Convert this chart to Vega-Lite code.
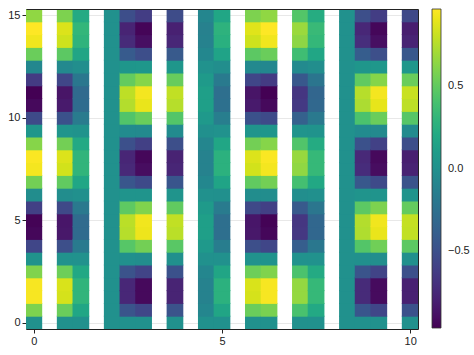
{
"$schema": "https://vega.github.io/schema/vega-lite/v6.json",
"width": 392, "height": 320,
"autosize": {"type": "none"},
"padding": {"left": 26, "top": 9, "right": 56, "bottom": 26},
"config": {
  "view": {"stroke": null},
  "font": "Liberation Sans",
  "axis": {"domainColor": "#222", "domainWidth": 1, "tickColor": "#222", "tickSize": 4, "labelColor": "#222", "labelFontSize": 11, "labelPadding": 2, "gridColor": "#e8e8e8", "title": null}
},
"data": {"values": [
{"x":0,"y":0,"v":0},{"x":0,"y":0.625,"v":0.59},{"x":0,"y":1.25,"v":0.95},{"x":0,"y":1.875,"v":0.95},{"x":0,"y":2.5,"v":0.6},{"x":0,"y":3.125,"v":0.02},{"x":0,"y":3.75,"v":-0.57},{"x":0,"y":4.375,"v":-0.94},{"x":0,"y":5,"v":-0.96},{"x":0,"y":5.625,"v":-0.61},{"x":0,"y":6.25,"v":-0.03},{"x":0,"y":6.875,"v":0.56},{"x":0,"y":7.5,"v":0.94},{"x":0,"y":8.125,"v":0.96},{"x":0,"y":8.75,"v":0.62},{"x":0,"y":9.375,"v":0.05},{"x":0,"y":10,"v":-0.54},{"x":0,"y":10.625,"v":-0.93},{"x":0,"y":11.25,"v":-0.97},{"x":0,"y":11.875,"v":-0.64},{"x":0,"y":12.5,"v":-0.07},{"x":0,"y":13.125,"v":0.53},{"x":0,"y":13.75,"v":0.93},{"x":0,"y":14.375,"v":0.97},{"x":0,"y":15,"v":0.65},
{"x":0.833,"y":0,"v":0},{"x":0.833,"y":0.625,"v":0.53},{"x":0.833,"y":1.25,"v":0.85},{"x":0.833,"y":1.875,"v":0.86},{"x":0.833,"y":2.5,"v":0.54},{"x":0.833,"y":3.125,"v":0.01},{"x":0.833,"y":3.75,"v":-0.51},{"x":0.833,"y":4.375,"v":-0.85},{"x":0.833,"y":5,"v":-0.86},{"x":0.833,"y":5.625,"v":-0.55},{"x":0.833,"y":6.25,"v":-0.03},{"x":0.833,"y":6.875,"v":0.5},{"x":0.833,"y":7.5,"v":0.84},{"x":0.833,"y":8.125,"v":0.87},{"x":0.833,"y":8.75,"v":0.56},{"x":0.833,"y":9.375,"v":0.04},{"x":0.833,"y":10,"v":-0.49},{"x":0.833,"y":10.625,"v":-0.84},{"x":0.833,"y":11.25,"v":-0.87},{"x":0.833,"y":11.875,"v":-0.57},{"x":0.833,"y":12.5,"v":-0.06},{"x":0.833,"y":13.125,"v":0.48},{"x":0.833,"y":13.75,"v":0.83},{"x":0.833,"y":14.375,"v":0.87},{"x":0.833,"y":15,"v":0.59},
{"x":1.25,"y":0,"v":0},{"x":1.25,"y":0.625,"v":0.18},{"x":1.25,"y":1.25,"v":0.3},{"x":1.25,"y":1.875,"v":0.3},{"x":1.25,"y":2.5,"v":0.19},{"x":1.25,"y":3.125,"v":0.01},{"x":1.25,"y":3.75,"v":-0.18},{"x":1.25,"y":4.375,"v":-0.3},{"x":1.25,"y":5,"v":-0.3},{"x":1.25,"y":5.625,"v":-0.19},{"x":1.25,"y":6.25,"v":-0.01},{"x":1.25,"y":6.875,"v":0.18},{"x":1.25,"y":7.5,"v":0.3},{"x":1.25,"y":8.125,"v":0.3},{"x":1.25,"y":8.75,"v":0.2},{"x":1.25,"y":9.375,"v":0.02},{"x":1.25,"y":10,"v":-0.17},{"x":1.25,"y":10.625,"v":-0.29},{"x":1.25,"y":11.25,"v":-0.31},{"x":1.25,"y":11.875,"v":-0.2},{"x":1.25,"y":12.5,"v":-0.02},{"x":1.25,"y":13.125,"v":0.17},{"x":1.25,"y":13.75,"v":0.29},{"x":1.25,"y":14.375,"v":0.31},{"x":1.25,"y":15,"v":0.21},
{"x":2.083,"y":0,"v":0},{"x":2.083,"y":0.625,"v":0},{"x":2.083,"y":1.25,"v":0},{"x":2.083,"y":1.875,"v":0},{"x":2.083,"y":2.5,"v":0},{"x":2.083,"y":3.125,"v":0},{"x":2.083,"y":3.75,"v":0},{"x":2.083,"y":4.375,"v":0},{"x":2.083,"y":5,"v":0},{"x":2.083,"y":5.625,"v":0},{"x":2.083,"y":6.25,"v":0},{"x":2.083,"y":6.875,"v":0},{"x":2.083,"y":7.5,"v":0},{"x":2.083,"y":8.125,"v":0},{"x":2.083,"y":8.75,"v":0},{"x":2.083,"y":9.375,"v":0},{"x":2.083,"y":10,"v":0},{"x":2.083,"y":10.625,"v":0},{"x":2.083,"y":11.25,"v":0},{"x":2.083,"y":11.875,"v":0},{"x":2.083,"y":12.5,"v":0},{"x":2.083,"y":13.125,"v":0},{"x":2.083,"y":13.75,"v":0},{"x":2.083,"y":14.375,"v":0},{"x":2.083,"y":15,"v":0},
{"x":2.5,"y":0,"v":0},{"x":2.5,"y":0.625,"v":-0.47},{"x":2.5,"y":1.25,"v":-0.76},{"x":2.5,"y":1.875,"v":-0.76},{"x":2.5,"y":2.5,"v":-0.48},{"x":2.5,"y":3.125,"v":-0.01},{"x":2.5,"y":3.75,"v":0.46},{"x":2.5,"y":4.375,"v":0.76},{"x":2.5,"y":5,"v":0.77},{"x":2.5,"y":5.625,"v":0.49},{"x":2.5,"y":6.25,"v":0.03},{"x":2.5,"y":6.875,"v":-0.45},{"x":2.5,"y":7.5,"v":-0.75},{"x":2.5,"y":8.125,"v":-0.77},{"x":2.5,"y":8.75,"v":-0.5},{"x":2.5,"y":9.375,"v":-0.04},{"x":2.5,"y":10,"v":0.44},{"x":2.5,"y":10.625,"v":0.75},{"x":2.5,"y":11.25,"v":0.78},{"x":2.5,"y":11.875,"v":0.51},{"x":2.5,"y":12.5,"v":0.05},{"x":2.5,"y":13.125,"v":-0.42},{"x":2.5,"y":13.75,"v":-0.74},{"x":2.5,"y":14.375,"v":-0.78},{"x":2.5,"y":15,"v":-0.52},
{"x":2.917,"y":0,"v":0},{"x":2.917,"y":0.625,"v":-0.57},{"x":2.917,"y":1.25,"v":-0.93},{"x":2.917,"y":1.875,"v":-0.93},{"x":2.917,"y":2.5,"v":-0.58},{"x":2.917,"y":3.125,"v":-0.02},{"x":2.917,"y":3.75,"v":0.56},{"x":2.917,"y":4.375,"v":0.92},{"x":2.917,"y":5,"v":0.93},{"x":2.917,"y":5.625,"v":0.6},{"x":2.917,"y":6.25,"v":0.03},{"x":2.917,"y":6.875,"v":-0.54},{"x":2.917,"y":7.5,"v":-0.91},{"x":2.917,"y":8.125,"v":-0.94},{"x":2.917,"y":8.75,"v":-0.61},{"x":2.917,"y":9.375,"v":-0.05},{"x":2.917,"y":10,"v":0.53},{"x":2.917,"y":10.625,"v":0.91},{"x":2.917,"y":11.25,"v":0.94},{"x":2.917,"y":11.875,"v":0.62},{"x":2.917,"y":12.5,"v":0.06},{"x":2.917,"y":13.125,"v":-0.52},{"x":2.917,"y":13.75,"v":-0.9},{"x":2.917,"y":14.375,"v":-0.95},{"x":2.917,"y":15,"v":-0.63},
{"x":3.75,"y":0,"v":0},{"x":3.75,"y":0.625,"v":-0.48},{"x":3.75,"y":1.25,"v":-0.78},{"x":3.75,"y":1.875,"v":-0.78},{"x":3.75,"y":2.5,"v":-0.49},{"x":3.75,"y":3.125,"v":-0.01},{"x":3.75,"y":3.75,"v":0.47},{"x":3.75,"y":4.375,"v":0.77},{"x":3.75,"y":5,"v":0.79},{"x":3.75,"y":5.625,"v":0.5},{"x":3.75,"y":6.25,"v":0.03},{"x":3.75,"y":6.875,"v":-0.46},{"x":3.75,"y":7.5,"v":-0.77},{"x":3.75,"y":8.125,"v":-0.79},{"x":3.75,"y":8.75,"v":-0.51},{"x":3.75,"y":9.375,"v":-0.04},{"x":3.75,"y":10,"v":0.45},{"x":3.75,"y":10.625,"v":0.76},{"x":3.75,"y":11.25,"v":0.79},{"x":3.75,"y":11.875,"v":0.52},{"x":3.75,"y":12.5,"v":0.05},{"x":3.75,"y":13.125,"v":-0.43},{"x":3.75,"y":13.75,"v":-0.76},{"x":3.75,"y":14.375,"v":-0.8},{"x":3.75,"y":15,"v":-0.53},
{"x":4.583,"y":0,"v":0},{"x":4.583,"y":0.625,"v":-0.08},{"x":4.583,"y":1.25,"v":-0.12},{"x":4.583,"y":1.875,"v":-0.12},{"x":4.583,"y":2.5,"v":-0.08},{"x":4.583,"y":3.125,"v":0},{"x":4.583,"y":3.75,"v":0.07},{"x":4.583,"y":4.375,"v":0.12},{"x":4.583,"y":5,"v":0.12},{"x":4.583,"y":5.625,"v":0.08},{"x":4.583,"y":6.25,"v":0},{"x":4.583,"y":6.875,"v":-0.07},{"x":4.583,"y":7.5,"v":-0.12},{"x":4.583,"y":8.125,"v":-0.12},{"x":4.583,"y":8.75,"v":-0.08},{"x":4.583,"y":9.375,"v":-0.01},{"x":4.583,"y":10,"v":0.07},{"x":4.583,"y":10.625,"v":0.12},{"x":4.583,"y":11.25,"v":0.12},{"x":4.583,"y":11.875,"v":0.08},{"x":4.583,"y":12.5,"v":0.01},{"x":4.583,"y":13.125,"v":-0.07},{"x":4.583,"y":13.75,"v":-0.12},{"x":4.583,"y":14.375,"v":-0.13},{"x":4.583,"y":15,"v":-0.08},
{"x":5,"y":0,"v":0},{"x":5,"y":0.625,"v":0.17},{"x":5,"y":1.25,"v":0.27},{"x":5,"y":1.875,"v":0.27},{"x":5,"y":2.5,"v":0.17},{"x":5,"y":3.125,"v":0},{"x":5,"y":3.75,"v":-0.16},{"x":5,"y":4.375,"v":-0.27},{"x":5,"y":5,"v":-0.27},{"x":5,"y":5.625,"v":-0.17},{"x":5,"y":6.25,"v":-0.01},{"x":5,"y":6.875,"v":0.16},{"x":5,"y":7.5,"v":0.27},{"x":5,"y":8.125,"v":0.27},{"x":5,"y":8.75,"v":0.18},{"x":5,"y":9.375,"v":0.01},{"x":5,"y":10,"v":-0.15},{"x":5,"y":10.625,"v":-0.26},{"x":5,"y":11.25,"v":-0.27},{"x":5,"y":11.875,"v":-0.18},{"x":5,"y":12.5,"v":-0.02},{"x":5,"y":13.125,"v":0.15},{"x":5,"y":13.75,"v":0.26},{"x":5,"y":14.375,"v":0.28},{"x":5,"y":15,"v":0.18},
{"x":5.833,"y":0,"v":0},{"x":5.833,"y":0.625,"v":0.53},{"x":5.833,"y":1.25,"v":0.85},{"x":5.833,"y":1.875,"v":0.86},{"x":5.833,"y":2.5,"v":0.54},{"x":5.833,"y":3.125,"v":0.01},{"x":5.833,"y":3.75,"v":-0.51},{"x":5.833,"y":4.375,"v":-0.85},{"x":5.833,"y":5,"v":-0.86},{"x":5.833,"y":5.625,"v":-0.55},{"x":5.833,"y":6.25,"v":-0.03},{"x":5.833,"y":6.875,"v":0.5},{"x":5.833,"y":7.5,"v":0.84},{"x":5.833,"y":8.125,"v":0.87},{"x":5.833,"y":8.75,"v":0.56},{"x":5.833,"y":9.375,"v":0.04},{"x":5.833,"y":10,"v":-0.49},{"x":5.833,"y":10.625,"v":-0.84},{"x":5.833,"y":11.25,"v":-0.87},{"x":5.833,"y":11.875,"v":-0.57},{"x":5.833,"y":12.5,"v":-0.06},{"x":5.833,"y":13.125,"v":0.48},{"x":5.833,"y":13.75,"v":0.83},{"x":5.833,"y":14.375,"v":0.88},{"x":5.833,"y":15,"v":0.59},
{"x":6.25,"y":0,"v":0},{"x":6.25,"y":0.625,"v":0.58},{"x":6.25,"y":1.25,"v":0.95},{"x":6.25,"y":1.875,"v":0.95},{"x":6.25,"y":2.5,"v":0.6},{"x":6.25,"y":3.125,"v":0.02},{"x":6.25,"y":3.75,"v":-0.57},{"x":6.25,"y":4.375,"v":-0.94},{"x":6.25,"y":5,"v":-0.96},{"x":6.25,"y":5.625,"v":-0.61},{"x":6.25,"y":6.25,"v":-0.03},{"x":6.25,"y":6.875,"v":0.56},{"x":6.25,"y":7.5,"v":0.94},{"x":6.25,"y":8.125,"v":0.96},{"x":6.25,"y":8.75,"v":0.62},{"x":6.25,"y":9.375,"v":0.05},{"x":6.25,"y":10,"v":-0.54},{"x":6.25,"y":10.625,"v":-0.93},{"x":6.25,"y":11.25,"v":-0.97},{"x":6.25,"y":11.875,"v":-0.64},{"x":6.25,"y":12.5,"v":-0.07},{"x":6.25,"y":13.125,"v":0.53},{"x":6.25,"y":13.75,"v":0.93},{"x":6.25,"y":14.375,"v":0.97},{"x":6.25,"y":15,"v":0.65},
{"x":7.083,"y":0,"v":0},{"x":7.083,"y":0.625,"v":0.41},{"x":7.083,"y":1.25,"v":0.66},{"x":7.083,"y":1.875,"v":0.66},{"x":7.083,"y":2.5,"v":0.42},{"x":7.083,"y":3.125,"v":0.01},{"x":7.083,"y":3.75,"v":-0.4},{"x":7.083,"y":4.375,"v":-0.66},{"x":7.083,"y":5,"v":-0.67},{"x":7.083,"y":5.625,"v":-0.43},{"x":7.083,"y":6.25,"v":-0.02},{"x":7.083,"y":6.875,"v":0.39},{"x":7.083,"y":7.5,"v":0.65},{"x":7.083,"y":8.125,"v":0.67},{"x":7.083,"y":8.75,"v":0.44},{"x":7.083,"y":9.375,"v":0.03},{"x":7.083,"y":10,"v":-0.38},{"x":7.083,"y":10.625,"v":-0.65},{"x":7.083,"y":11.25,"v":-0.67},{"x":7.083,"y":11.875,"v":-0.44},{"x":7.083,"y":12.5,"v":-0.05},{"x":7.083,"y":13.125,"v":0.37},{"x":7.083,"y":13.75,"v":0.64},{"x":7.083,"y":14.375,"v":0.68},{"x":7.083,"y":15,"v":0.45},
{"x":7.5,"y":0,"v":0},{"x":7.5,"y":0.625,"v":0.2},{"x":7.5,"y":1.25,"v":0.33},{"x":7.5,"y":1.875,"v":0.33},{"x":7.5,"y":2.5,"v":0.21},{"x":7.5,"y":3.125,"v":0.01},{"x":7.5,"y":3.75,"v":-0.2},{"x":7.5,"y":4.375,"v":-0.33},{"x":7.5,"y":5,"v":-0.33},{"x":7.5,"y":5.625,"v":-0.21},{"x":7.5,"y":6.25,"v":-0.01},{"x":7.5,"y":6.875,"v":0.19},{"x":7.5,"y":7.5,"v":0.33},{"x":7.5,"y":8.125,"v":0.33},{"x":7.5,"y":8.75,"v":0.22},{"x":7.5,"y":9.375,"v":0.02},{"x":7.5,"y":10,"v":-0.19},{"x":7.5,"y":10.625,"v":-0.32},{"x":7.5,"y":11.25,"v":-0.34},{"x":7.5,"y":11.875,"v":-0.22},{"x":7.5,"y":12.5,"v":-0.02},{"x":7.5,"y":13.125,"v":0.18},{"x":7.5,"y":13.75,"v":0.32},{"x":7.5,"y":14.375,"v":0.34},{"x":7.5,"y":15,"v":0.23},
{"x":8.333,"y":0,"v":0},{"x":8.333,"y":0.625,"v":0},{"x":8.333,"y":1.25,"v":0},{"x":8.333,"y":1.875,"v":0},{"x":8.333,"y":2.5,"v":0},{"x":8.333,"y":3.125,"v":0},{"x":8.333,"y":3.75,"v":0},{"x":8.333,"y":4.375,"v":0},{"x":8.333,"y":5,"v":0},{"x":8.333,"y":5.625,"v":0},{"x":8.333,"y":6.25,"v":0},{"x":8.333,"y":6.875,"v":0},{"x":8.333,"y":7.5,"v":0},{"x":8.333,"y":8.125,"v":0},{"x":8.333,"y":8.75,"v":0},{"x":8.333,"y":9.375,"v":0},{"x":8.333,"y":10,"v":0},{"x":8.333,"y":10.625,"v":0},{"x":8.333,"y":11.25,"v":0},{"x":8.333,"y":11.875,"v":0},{"x":8.333,"y":12.5,"v":0},{"x":8.333,"y":13.125,"v":0},{"x":8.333,"y":13.75,"v":0},{"x":8.333,"y":14.375,"v":0},{"x":8.333,"y":15,"v":0},
{"x":8.75,"y":0,"v":0},{"x":8.75,"y":0.625,"v":-0.46},{"x":8.75,"y":1.25,"v":-0.74},{"x":8.75,"y":1.875,"v":-0.74},{"x":8.75,"y":2.5,"v":-0.47},{"x":8.75,"y":3.125,"v":-0.01},{"x":8.75,"y":3.75,"v":0.45},{"x":8.75,"y":4.375,"v":0.74},{"x":8.75,"y":5,"v":0.75},{"x":8.75,"y":5.625,"v":0.48},{"x":8.75,"y":6.25,"v":0.03},{"x":8.75,"y":6.875,"v":-0.44},{"x":8.75,"y":7.5,"v":-0.73},{"x":8.75,"y":8.125,"v":-0.75},{"x":8.75,"y":8.75,"v":-0.49},{"x":8.75,"y":9.375,"v":-0.04},{"x":8.75,"y":10,"v":0.42},{"x":8.75,"y":10.625,"v":0.73},{"x":8.75,"y":11.25,"v":0.76},{"x":8.75,"y":11.875,"v":0.5},{"x":8.75,"y":12.5,"v":0.05},{"x":8.75,"y":13.125,"v":-0.41},{"x":8.75,"y":13.75,"v":-0.72},{"x":8.75,"y":14.375,"v":-0.76},{"x":8.75,"y":15,"v":-0.51},
{"x":9.167,"y":0,"v":0},{"x":9.167,"y":0.625,"v":-0.57},{"x":9.167,"y":1.25,"v":-0.92},{"x":9.167,"y":1.875,"v":-0.92},{"x":9.167,"y":2.5,"v":-0.58},{"x":9.167,"y":3.125,"v":-0.02},{"x":9.167,"y":3.75,"v":0.55},{"x":9.167,"y":4.375,"v":0.91},{"x":9.167,"y":5,"v":0.93},{"x":9.167,"y":5.625,"v":0.59},{"x":9.167,"y":6.25,"v":0.03},{"x":9.167,"y":6.875,"v":-0.54},{"x":9.167,"y":7.5,"v":-0.91},{"x":9.167,"y":8.125,"v":-0.93},{"x":9.167,"y":8.75,"v":-0.6},{"x":9.167,"y":9.375,"v":-0.05},{"x":9.167,"y":10,"v":0.53},{"x":9.167,"y":10.625,"v":0.9},{"x":9.167,"y":11.25,"v":0.94},{"x":9.167,"y":11.875,"v":0.62},{"x":9.167,"y":12.5,"v":0.06},{"x":9.167,"y":13.125,"v":-0.51},{"x":9.167,"y":13.75,"v":-0.9},{"x":9.167,"y":14.375,"v":-0.94},{"x":9.167,"y":15,"v":-0.63},
{"x":10,"y":0,"v":0},{"x":10,"y":0.625,"v":-0.49},{"x":10,"y":1.25,"v":-0.8},{"x":10,"y":1.875,"v":-0.8},{"x":10,"y":2.5,"v":-0.5},{"x":10,"y":3.125,"v":-0.01},{"x":10,"y":3.75,"v":0.48},{"x":10,"y":4.375,"v":0.79},{"x":10,"y":5,"v":0.8},{"x":10,"y":5.625,"v":0.51},{"x":10,"y":6.25,"v":0.03},{"x":10,"y":6.875,"v":-0.47},{"x":10,"y":7.5,"v":-0.79},{"x":10,"y":8.125,"v":-0.81},{"x":10,"y":8.75,"v":-0.52},{"x":10,"y":9.375,"v":-0.04},{"x":10,"y":10,"v":0.46},{"x":10,"y":10.625,"v":0.78},{"x":10,"y":11.25,"v":0.81},{"x":10,"y":11.875,"v":0.53},{"x":10,"y":12.5,"v":0.06},{"x":10,"y":13.125,"v":-0.44},{"x":10,"y":13.75,"v":-0.78},{"x":10,"y":14.375,"v":-0.82},{"x":10,"y":15,"v":-0.55}
]},
"layer": [
  {
    "mark": {"type": "rect", "width": 16.7, "height": 13.8, "clip": true},
    "encoding": {
      "x": {"field": "x", "type": "quantitative", "scale": {"domain": [-0.2083, 10.2083], "nice": false, "zero": false},
            "axis": {"values": [0, 5, 10], "grid": true}},
      "y": {"field": "y", "type": "quantitative", "scale": {"domain": [-0.3125, 15.3125], "nice": false, "zero": false},
            "axis": {"values": [0, 5, 10, 15], "grid": true}},
      "color": {"field": "v", "type": "quantitative", "scale": {"scheme": "viridis", "domain": [-0.97, 0.97]},
                "legend": {"title": null, "values": [-0.5, 0, 0.5], "format": ".1f", "gradientLength": 319, "gradientThickness": 9,
                           "offset": 14, "padding": 0, "labelOffset": 7, "labelFontSize": 11, "labelColor": "#222",
                           "gradientStrokeColor": "#333", "gradientStrokeWidth": 0.8}}
    }
  },
  {
    "mark": {"type": "rect", "width": 15.8, "height": 12.95, "opacity": 0},
    "encoding": {
      "x": {"field": "x", "type": "quantitative", "axis": {"orient": "top", "labels": false, "ticks": false, "grid": false, "domain": true, "zindex": 1, "minExtent": 0, "maxExtent": 0}},
      "y": {"field": "y", "type": "quantitative", "axis": {"orient": "right", "labels": false, "ticks": false, "grid": false, "domain": true, "zindex": 1, "minExtent": 0, "maxExtent": 0}}
    }
  }
],
"resolve": {"axis": {"x": "independent", "y": "independent"}}
}
